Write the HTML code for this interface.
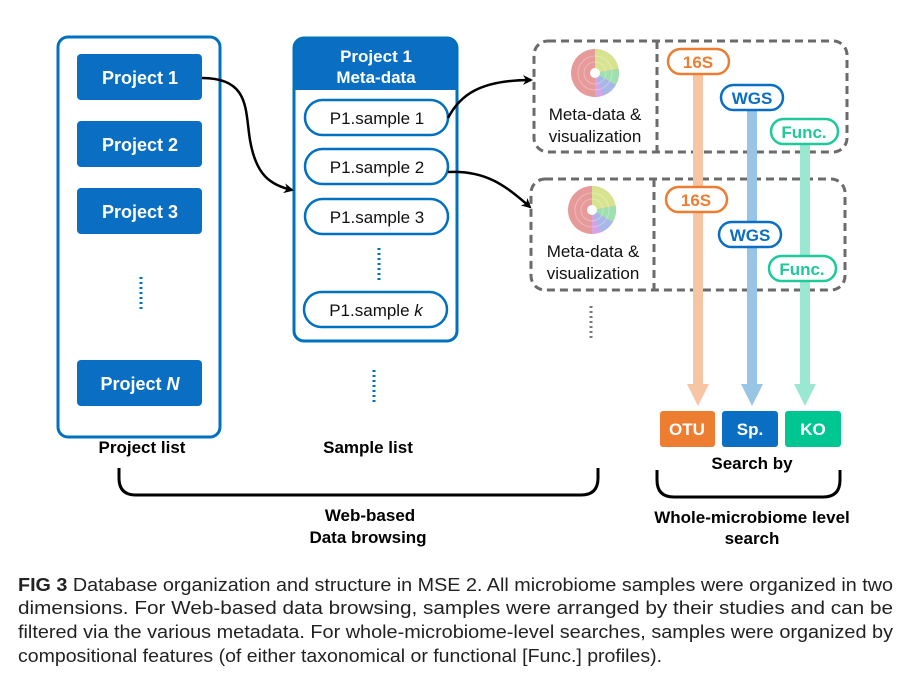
<!DOCTYPE html>
<html><head><meta charset="utf-8"><style>
html,body{margin:0;padding:0;background:#fff;}
svg{display:block;}
text{font-family:"Liberation Sans",Arial,sans-serif;}
</style></head><body>
<svg width="910" height="683" viewBox="0 0 910 683" xmlns="http://www.w3.org/2000/svg">
<defs>
<marker id="ah" markerWidth="10" markerHeight="10" refX="8" refY="5" orient="auto" markerUnits="userSpaceOnUse"><path d="M0,0 L10,5 L0,10 L3,5 Z" fill="#000"/></marker>
<g id="wheel">
 <circle r="24" fill="#e79a9a"/>
 <path d="M0,0 L0,-24 A24,24 0 0,1 23.6,-4.2 Z" fill="#d7e38f"/>
 <path d="M0,0 L23.6,-4.2 A24,24 0 0,1 20.8,12 Z" fill="#9fe0b0"/>
 <path d="M0,0 L20.8,12 A24,24 0 0,1 8.4,22.5 Z" fill="#a7b8e8"/>
 <path d="M0,0 L8.4,22.5 A24,24 0 0,1 0,24 Z" fill="#d6a3e6"/>
 <circle r="17" fill="none" stroke="#fff" stroke-opacity="0.3"/>
 <circle r="11" fill="none" stroke="#fff" stroke-opacity="0.3"/>
 <circle r="5" fill="#fff"/>
</g>
</defs>

<rect x="58" y="37" width="162" height="400" rx="10" fill="#fff" stroke="#0070c0" stroke-width="3"/>
<g fill="#0a6fc2">
<rect x="77" y="54" width="125" height="46" rx="4"/>
<rect x="77" y="121" width="125" height="46" rx="4"/>
<rect x="77" y="188" width="125" height="46" rx="4"/>
<rect x="77" y="360" width="125" height="46" rx="4"/>
</g>
<g fill="#fff" font-weight="bold" font-size="18" text-anchor="middle">
<text x="140" y="84">Project 1</text>
<text x="140" y="151">Project 2</text>
<text x="140" y="218">Project 3</text>
<text x="140" y="390">Project <tspan font-style="italic">N</tspan></text>
</g>
<line x1="141" y1="277" x2="141" y2="311" stroke="#0070c0" stroke-width="3" stroke-dasharray="2,3"/>
<text x="142" y="453" font-weight="bold" font-size="17" text-anchor="middle">Project list</text>

<path d="M303,38 H448 A10,10 0 0 1 458,48 V90 H293 V48 A10,10 0 0 1 303,38 Z" fill="#0a6fc2"/>
<rect x="294" y="38" width="163" height="303" rx="10" fill="none" stroke="#0070c0" stroke-width="3"/>
<text x="376" y="62" fill="#fff" font-weight="bold" font-size="17" text-anchor="middle">Project  1</text>
<text x="376" y="83" fill="#fff" font-weight="bold" font-size="17" text-anchor="middle">Meta-data</text>
<g fill="#fff" stroke="#0070c0" stroke-width="2.5">
<rect x="305" y="100" width="143" height="35" rx="17.5"/>
<rect x="305" y="149" width="143" height="35" rx="17.5"/>
<rect x="305" y="199" width="143" height="35" rx="17.5"/>
<rect x="304" y="292" width="143" height="35" rx="17.5"/>
</g>
<g font-size="17" text-anchor="middle" fill="#111">
<text x="377" y="124">P1.sample 1</text>
<text x="377" y="173">P1.sample 2</text>
<text x="377" y="223">P1.sample 3</text>
<text x="376" y="316">P1.sample <tspan font-style="italic">k</tspan></text>
</g>
<line x1="379" y1="248" x2="379" y2="281" stroke="#0070c0" stroke-width="3" stroke-dasharray="2,3"/>
<line x1="374" y1="370" x2="374" y2="403" stroke="#0070c0" stroke-width="3" stroke-dasharray="2,3"/>
<text x="368" y="453" font-weight="bold" font-size="17" text-anchor="middle">Sample list</text>

<path d="M202,78 C250,78 245,110 250,140 C256,175 270,185 292,190" fill="none" stroke="#000" stroke-width="2.5" marker-end="url(#ah)"/>
<path d="M448,118 C460,95 480,80 531,80" fill="none" stroke="#000" stroke-width="2.5" marker-end="url(#ah)"/>
<path d="M448,172 C485,170 505,185 530,207" fill="none" stroke="#000" stroke-width="2.5" marker-end="url(#ah)"/>

<g fill="none" stroke="#6b6b6b" stroke-width="3" stroke-dasharray="8,5">
<rect x="534" y="41" width="313" height="111" rx="14"/>
<line x1="657" y1="41" x2="657" y2="152"/>
<rect x="531" y="179" width="314" height="111" rx="14"/>
<line x1="654" y1="179" x2="654" y2="290"/>
</g>
<use href="#wheel" x="595" y="73"/>
<use href="#wheel" x="592" y="210"/>
<g font-size="17" text-anchor="middle" fill="#111">
<text x="595" y="120">Meta-data &amp;</text>
<text x="595" y="142">visualization</text>
<text x="593" y="257">Meta-data &amp;</text>
<text x="593" y="279">visualization</text>
</g>
<line x1="591" y1="306" x2="591" y2="339" stroke="#777" stroke-width="3" stroke-dasharray="2,3"/>

<rect x="693" y="74" width="10" height="312" fill="#f6c5a3"/>
<path d="M687,384 H709 L698,406 Z" fill="#f6c5a3"/>
<rect x="747" y="108" width="10" height="278" fill="#98c4e6"/>
<path d="M741,384 H763 L752,406 Z" fill="#98c4e6"/>
<rect x="800" y="143" width="10" height="243" fill="#9be8d2"/>
<path d="M794,384 H816 L805,406 Z" fill="#9be8d2"/>

<g stroke-width="2.5" fill="#fff">
<rect x="668" y="49" width="61" height="25" rx="12.5" stroke="#ed7d31"/>
<rect x="721" y="85" width="62" height="25" rx="12.5" stroke="#0a6fc2"/>
<rect x="771" y="119" width="67" height="25" rx="12.5" stroke="#1ec99a"/>
<rect x="666" y="187" width="61" height="25" rx="12.5" stroke="#ed7d31"/>
<rect x="719" y="222" width="62" height="25" rx="12.5" stroke="#0a6fc2"/>
<rect x="769" y="256" width="67" height="25" rx="12.5" stroke="#1ec99a"/>
</g>
<g font-weight="bold" font-size="17" text-anchor="middle">
<text x="698" y="68" fill="#ed7d31">16S</text>
<text x="752" y="104" fill="#0a6fc2">WGS</text>
<text x="804" y="138" fill="#1ec99a">Func.</text>
<text x="696" y="206" fill="#ed7d31">16S</text>
<text x="750" y="241" fill="#0a6fc2">WGS</text>
<text x="802" y="275" fill="#1ec99a">Func.</text>
</g>

<rect x="660" y="411" width="55" height="36" rx="3" fill="#ed7d31"/>
<rect x="722" y="411" width="56" height="36" rx="3" fill="#0a6fc2"/>
<rect x="785" y="411" width="56" height="36" rx="3" fill="#00c691"/>
<g fill="#fff" font-weight="bold" font-size="17" text-anchor="middle">
<text x="687" y="435">OTU</text>
<text x="750" y="435">Sp.</text>
<text x="813" y="435">KO</text>
</g>
<text x="752" y="469" font-weight="bold" font-size="17" text-anchor="middle">Search by</text>

<path d="M119,468 V478 Q119,495 136,495 H581 Q598,495 598,478 V468" fill="none" stroke="#000" stroke-width="3"/>
<path d="M657,470 V480 Q657,497 674,497 H823 Q840,497 840,480 V470" fill="none" stroke="#000" stroke-width="3"/>
<g font-weight="bold" font-size="17" text-anchor="middle">
<text x="370" y="521">Web-based</text>
<text x="368" y="543">Data browsing</text>
<text x="752" y="523">Whole-microbiome level</text>
<text x="752" y="544">search</text>
</g>

<g font-size="18" fill="#222">
<text x="18" y="591" textLength="875" lengthAdjust="spacingAndGlyphs"><tspan font-weight="bold">FIG 3</tspan> Database organization and structure in MSE 2. All microbiome samples were organized in two</text>
<text x="18" y="614" textLength="875" lengthAdjust="spacingAndGlyphs">dimensions. For Web-based data browsing, samples were arranged by their studies and can be</text>
<text x="18" y="638" textLength="875" lengthAdjust="spacingAndGlyphs">filtered via the various metadata. For whole-microbiome-level searches, samples were organized by</text>
<text x="18" y="662" textLength="644" lengthAdjust="spacingAndGlyphs">compositional features (of either taxonomical or functional [Func.] profiles).</text>
</g>
</svg>
</body></html>
